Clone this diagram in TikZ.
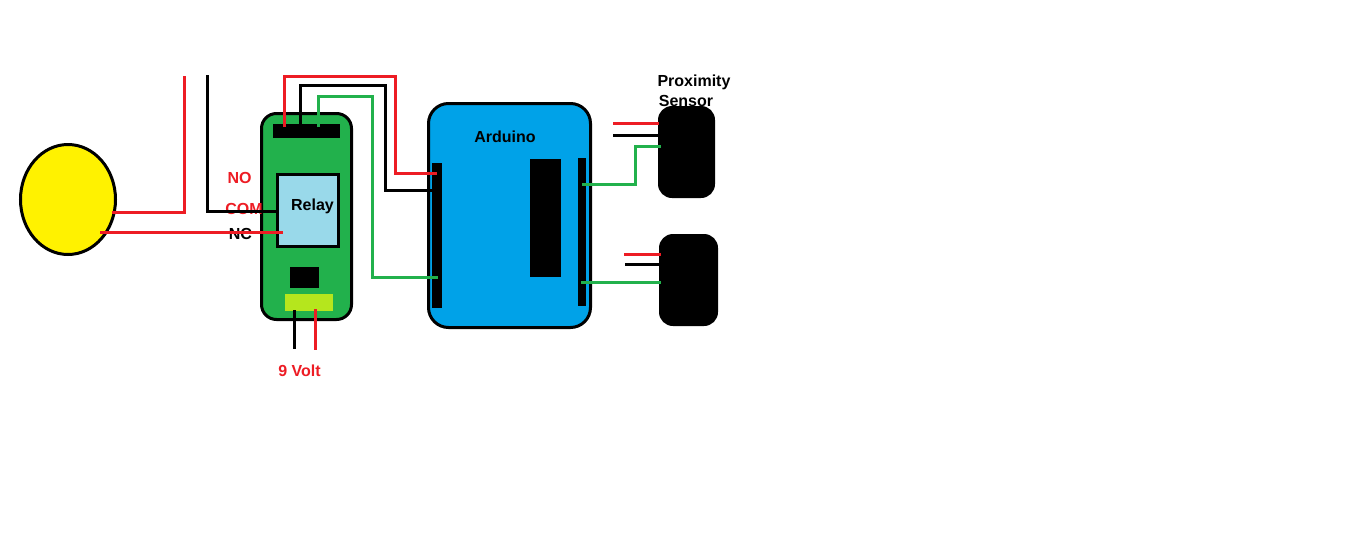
\documentclass[tikz,border=0pt]{standalone}
\usepackage{fontspec}
\setmainfont{Liberation Sans}
\usetikzlibrary{shapes.geometric, positioning, calc}
\definecolor{boardgreen}{HTML}{22B14C}
\definecolor{relayblue}{HTML}{99D9EA}
\definecolor{unoblue}{HTML}{00A2E8}
\definecolor{lampyellow}{HTML}{FFF200}
\definecolor{limepad}{HTML}{B5E61D}
\definecolor{wirered}{HTML}{ED1C24}

\begin{document}
\begin{tikzpicture}[
        x=1pt, y=-1pt,
        board/.style={rectangle, draw, line width=3pt, inner sep=0pt, outer sep=0pt},
        bar/.style={rectangle, fill=black, inner sep=0pt, outer sep=0pt},
        sensor/.style={bar, rounded corners=14pt},
        label/.style={font=\fontsize{16}{18}\selectfont\bfseries, inner sep=0pt, anchor=base},
        redlabel/.style={label, text=wirered},
        redwire/.style={draw=wirered, line width=3pt},
        blackwire/.style={draw=black, line width=3pt},
        greenwire/.style={draw=boardgreen, line width=3pt}
      ]
      \useasboundingbox (0,0) rectangle (1353,555);

      % Lamp
      \node (lamp) [ellipse, draw, fill=lampyellow, line width=3pt, inner sep=0pt,
                    minimum width=95pt, minimum height=110pt] at (68,199.5) {};

      % Relay board
      \node (relay_board) [board, fill=boardgreen, rounded corners=15pt,
                           minimum width=90pt, minimum height=206pt] at (306.5,216.5) {};
      \node (relay_head) [bar, minimum width=67pt, minimum height=14pt] at (306.5,131) {};
      \node (relay) [board, fill=relayblue, minimum width=61pt, minimum height=72pt] at (308,210) {};
      \node (relay_chip) [bar, minimum width=29pt, minimum height=21pt] at (304.5,277.5) {};
      \node (power_pad) [rectangle, fill=limepad, inner sep=0pt,
                         minimum width=48pt, minimum height=17pt] at (309,302.5) {};

      % Arduino
      \node (arduino) [board, fill=unoblue, rounded corners=20pt,
                       minimum width=162pt, minimum height=224pt] at (509.5,215.5) {};
      \node (left_pins) [bar, minimum width=10pt, minimum height=145pt] at (437,235.5) {};
      \node (chip) [bar, minimum width=31pt, minimum height=118pt] at (545.5,218) {};
      \node (right_pins) [bar, minimum width=8pt, minimum height=148pt] at (582,232) {};

      % Labels
      \node (no_lbl) [redlabel] at (239.5,183) {NO};
      \node (com_lbl) [redlabel] at (244,214) {COM};
      \node (nc_lbl) [label] at (240.5,239) {NC};
      \node (relay_lbl) [label] at (312.5,210) {Relay};
      \node (volt_lbl) [redlabel] at (299.5,376) {9 Volt};
      \node (arduino_lbl) [label] at (505,142) {Arduino};
      \node (prox_lbl) [label] at (694,86) {Proximity};
      \node (sens_lbl) [label] at (686,106) {Sensor};

      % Proximity sensors
      \node (sensor_a) [sensor, minimum width=57pt, minimum height=92pt] at (686.5,152) {};
      \node (sensor_b) [sensor, minimum width=59pt, minimum height=92pt] at (688.5,280) {};

      % Wire ends
      \coordinate (mains_red) at (184,76);
      \coordinate (mains_black) at (207,75);
      \coordinate (lamp_top) at (112,212);
      \coordinate (lamp_low) at (100,232);
      \coordinate (relay_com) at (277,211);
      \coordinate (relay_nc) at (283,232);
      \coordinate (head_red) at (284,127);
      \coordinate (head_black) at (300,125);
      \coordinate (head_green) at (318,127);
      \coordinate (pin_red) at (437,173);
      \coordinate (pin_black) at (432,190);
      \coordinate (pin_green) at (438,277);
      \coordinate (pad_black) at (294,310);
      \coordinate (pad_red) at (315,309);
      \coordinate (volt_black) at (294,349);
      \coordinate (volt_red) at (315,350);
      \coordinate (pin_a) at (582,184);
      \coordinate (pin_b) at (581,282);
      \coordinate (sig_a) at (661,146);
      \coordinate (sig_b) at (661,282);

      % Lamp and relay wires
      \draw [redwire] (mains_red) |- (lamp_top);
      \draw [blackwire] (mains_black) |- (relay_com);
      \draw [redwire] (lamp_low) -- (relay_nc);
      \draw [blackwire] (pad_black) -- (volt_black);
      \draw [redwire] (pad_red) -- (volt_red);

      % Relay to Arduino
      \draw [redwire] (head_red) -- ++(0,-51) -- ++(111,0) |- (pin_red);
      \draw [blackwire] (head_black) -- ++(0,-40) -- ++(85,0) |- (pin_black);
      \draw [greenwire] (head_green) -- ++(0,-31) -- ++(54,0) |- (pin_green);

      % Arduino to sensors
      \draw [greenwire] (pin_a) -- ++(53,0) |- (sig_a);
      \draw [greenwire] (pin_b) -- (sig_b);
      \draw [redwire] (613,123) -- (659,123);
      \draw [blackwire] (613,135) -- (659,135);
      \draw [redwire] (624,254) -- (661,254);
      \draw [blackwire] (625,264) -- (660,264);
    \end{tikzpicture}
\end{document}
